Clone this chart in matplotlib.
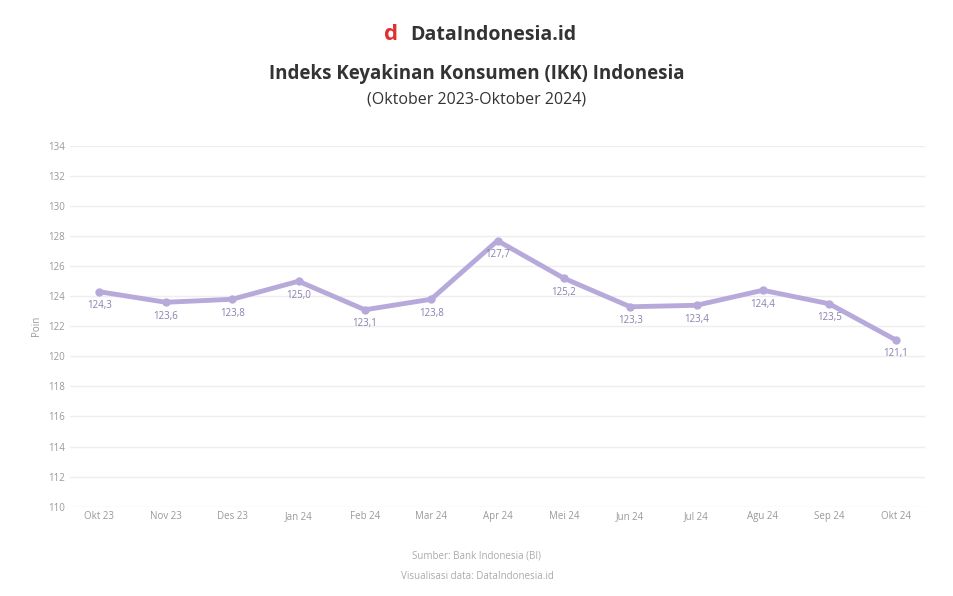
import matplotlib
matplotlib.use("Agg")
import matplotlib.pyplot as plt

months = ["Okt 23","Nov 23","Des 23","Jan 24","Feb 24","Mar 24","Apr 24","Mei 24","Jun 24","Jul 24","Agu 24","Sep 24","Okt 24"]
values = [124.3,123.6,123.8,125.0,123.1,123.8,127.7,125.2,123.3,123.4,124.4,123.5,121.1]
yticks = list(range(110,135,2))

plt.rcParams['font.family'] = ['Open Sans','DejaVu Sans']
fig = plt.figure(figsize=(9.54,5.96), dpi=100)
ax = fig.add_axes([0.073,0.15,0.897,0.605])
x = list(range(len(months)))
ax.plot(x, values, color="#b7aadb", lw=3.5, marker="o", ms=5, zorder=3)
for xi, v in zip(x, values):
    ax.annotate(f"{v:.1f}".replace(".",","), (xi,v), xytext=(0,-12), textcoords="offset points",
                ha="center", fontsize=7, color="#8a7fb0")
ax.set_ylim(110,134)
ax.set_yticks(yticks)
ax.set_xlim(-0.45,12.45)
ax.set_xticks(x, months)
ax.tick_params(length=0, labelsize=7, colors="#999999")
ax.grid(axis="y", color="#eeeeee", lw=1)
for s in ax.spines.values(): s.set_visible(False)
ax.set_ylabel("Poin", fontsize=7, color="#999999")
fig.text(0.41,0.942,"d", fontsize=16, color="#e03030", weight="bold", ha="center", va="center")
fig.text(0.43,0.942,"DataIndonesia.id", fontsize=14, weight="bold", color="#333333", ha="left", va="center")
fig.text(0.5,0.876,"Indeks Keyakinan Konsumen (IKK) Indonesia", fontsize=13.5, weight="bold", color="#333333", ha="center", va="center")
fig.text(0.5,0.833,"(Oktober 2023-Oktober 2024)", fontsize=11.5, color="#333333", ha="center", va="center")
fig.text(0.5,0.063,"Sumber: Bank Indonesia (BI)", fontsize=7, color="#aaaaaa", ha="center")
fig.text(0.5,0.028,"Visualisasi data: DataIndonesia.id", fontsize=7, color="#aaaaaa", ha="center")
fig.savefig("out.png", dpi=100)
